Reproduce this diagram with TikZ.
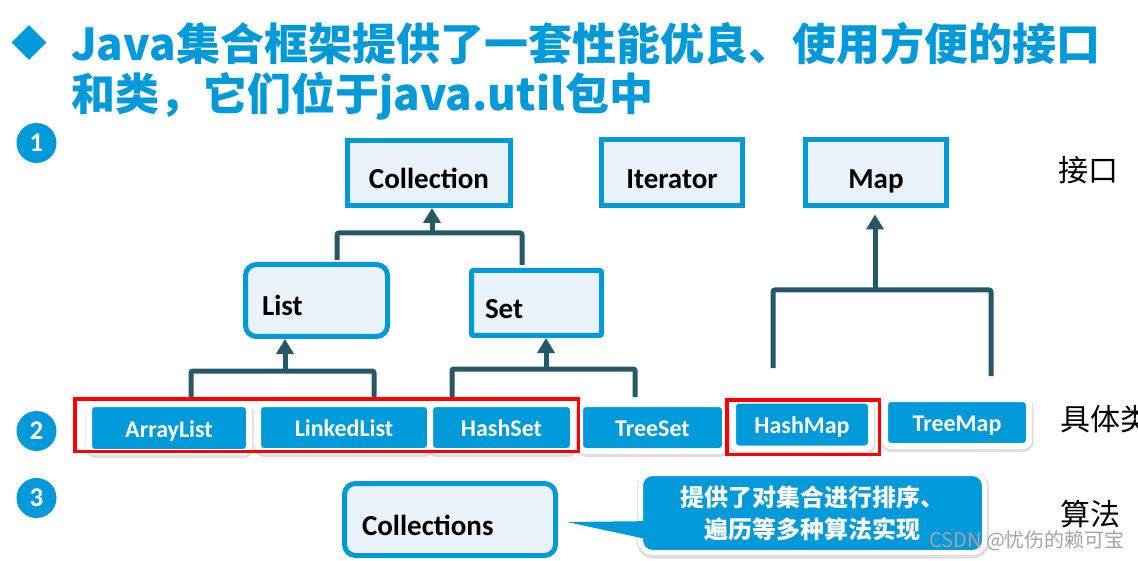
\documentclass[tikz,border=0pt]{standalone}
\usepackage{fontspec}
\setmainfont{Carlito}
\newfontfamily\cjk{Noto Sans CJK SC}
\usepackage{tikz}
\usetikzlibrary{arrows.meta,positioning,shapes.geometric,shadows}
\definecolor{jblue}{RGB}{0,153,218}
\definecolor{jpale}{RGB}{234,243,251}
\definecolor{jdark}{RGB}{37,89,105}
\definecolor{wmgray}{RGB}{165,165,165}

\begin{document}
\begin{tikzpicture}[x=1pt,y=-1pt,
  ifbox/.style={draw=jblue, line width=5pt, fill=jpale, inner sep=0pt,
    font=\bfseries\fontsize{29}{29}\selectfont, text height=31pt, text depth=0pt},
  clsbox/.style={fill=jblue, draw=white, line width=6pt, rounded corners=6pt,
    text=white, inner sep=0pt, font=\bfseries\fontsize{24}{24}\selectfont,
    text height=18pt, text depth=0pt,
    drop shadow={shadow xshift=0.5pt, shadow yshift=-2pt, opacity=.13, fill=black,
      draw=black, line width=8pt}},
  conn/.style={draw=jdark, line width=5pt, rounded corners=2pt},
  inh/.style={conn, -{Triangle[width=17pt,length=15pt]}},
  numdot/.style={circle, fill=jblue, minimum size=40pt, inner sep=0pt, text=white,
    font=\bfseries\fontsize{27}{27}\selectfont},
  selbox/.style={draw=red, line width=3.5pt},
  rlab/.style={anchor=west, inner sep=0pt, font=\cjk\fontsize{30}{30}\selectfont}]
  \fill[white] (0,0) rectangle (1138,561);
  \useasboundingbox (0,0) rectangle (1138,561);

  % title
  \node[diamond, aspect=1, minimum size=35pt, inner sep=0pt, fill=jblue] (dia) at (29,42.5) {};
  \node[anchor=base west, inner sep=0pt, text=jblue, font=\cjk\bfseries\fontsize{44}{44}\selectfont]
    (title1) at (71,61) {Java集合框架提供了一套性能优良、使用方便的接口};
  \node[anchor=base west, inner sep=0pt, text=jblue, font=\cjk\bfseries\fontsize{44}{44}\selectfont]
    (title2) at (71,111) {和类，它们位于java.util包中};

  % row numbers
  \node[numdot] (n1) at (36.5,143) {1};
  \node[numdot] (n2) at (36.5,431) {2};
  \node[numdot] (n3) at (36.5,498) {3};

  % interfaces
  \node[ifbox, minimum width=163pt, minimum height=65pt] (coll) at (429,173) {Collection};
  \node[ifbox, minimum width=141pt, minimum height=66pt] (iter) at (672,173) {Iterator};
  \node[ifbox, minimum width=141pt, minimum height=66pt] (map) at (876,173) {Map};
  \node[ifbox, rounded corners=11pt, minimum width=142pt, minimum height=72pt,
    text width=109pt, align=left, inner xsep=16.5pt] (list) at (316.5,300.5) {List};
  \node[ifbox, rounded corners=2pt, minimum width=130pt, minimum height=65pt,
    text width=103pt, align=left, inner xsep=13.5pt] (set) at (536.5,303) {Set};

  % classes
  \node[clsbox, minimum width=160pt, minimum height=48pt] (arraylist) at (169,428) {ArrayList};
  \node[clsbox, minimum width=172pt, minimum height=47pt] (linkedlist) at (344,427.5) {LinkedList};
  \node[clsbox, minimum width=143pt, minimum height=47pt] (hashset) at (501.5,427.5) {HashSet};
  \node[clsbox, minimum width=145pt, minimum height=47pt] (treeset) at (652.5,427.5) {TreeSet};
  \node[clsbox, minimum width=138pt, minimum height=48pt] (hashmap) at (802,424.5) {HashMap};
  \node[clsbox, minimum width=144pt, minimum height=47pt] (treemap) at (957,422.5) {TreeMap};

  % Collection tree
  \coordinate (cl) at (337,233);
  \coordinate (cj) at (432,233);
  \coordinate (cr) at (522,233);
  \draw[conn, shorten <=2pt, shorten >=3pt] (cl |- list.north) -- (cl) -- (cr) -- (cr |- set.north);
  \draw[inh] (cj) -- (cj |- coll.south);
  % List tree
  \coordinate (ll) at (191,371);
  \coordinate (lj) at (285,371);
  \coordinate (lr) at (374,371);
  \draw[conn, shorten <=4pt, shorten >=4pt] (ll |- arraylist.north) -- (ll) -- (lr) -- (lr |- linkedlist.north);
  \draw[inh] (lj) -- (lj |- list.south);
  % Set tree
  \coordinate (sl) at (452,369);
  \coordinate (sj) at (546,369);
  \coordinate (sr) at (635,369);
  \draw[conn, shorten <=4pt, shorten >=4pt] (sl |- hashset.north) -- (sl) -- (sr) -- (sr |- treeset.north);
  \draw[inh] (sj) -- (sj |- set.south);
  % Map tree
  \coordinate (mlend) at (773,368);
  \coordinate (mj) at (875,290);
  \coordinate (mrend) at (991,376);
  \draw[conn] (mlend) |- (mj) -| (mrend);
  \draw[inh, shorten >=6pt] (mj) -- (mj |- map.south);

  % selections
  \draw[selbox] (74.75,398.75) rectangle (578.25,451.25);
  \draw[selbox] (726.75,399.75) rectangle (879.25,454.25);

  % algorithms
  \node[ifbox, rounded corners=11pt, minimum width=211pt, minimum height=72pt,
    text width=176pt, align=left, inner xsep=17.5pt] (colls) at (450,519.5) {Collections};
  \coordinate (tip) at (567,522);
  \coordinate (wa) at (660,521);
  \coordinate (wb) at (660,542);
  \filldraw[fill=jblue, draw=white, line width=6pt, line join=round,
    drop shadow={shadow xshift=0.5pt, shadow yshift=-3pt, opacity=.2, fill=black}] (tip) -- (wa) -- (wb) -- cycle;
  \node[fill=jblue, draw=white, line width=5pt, rounded corners=12pt, minimum width=344pt,
    minimum height=79pt, inner sep=0pt, text=white, align=center,
    font=\cjk\bfseries\fontsize{24}{32}\selectfont,
    drop shadow={shadow xshift=0.5pt, shadow yshift=-2pt, opacity=.13, fill=black,
      draw=black, line width=8pt}]
    (note) at (812.5,513) {提供了对集合进行排序、\\遍历等多种算法实现};
  \fill[jblue] (tip) -- (wa) -- (wb) -- cycle;

  % right labels
  \node[rlab] (lbif) at (1058,170) {接口};
  \node[rlab] (lbcls) at (1060,419) {具体类};
  \node[rlab] (lbalg) at (1060,514) {算法};

  % watermark
  \node[anchor=west, inner sep=0pt, text=wmgray, font=\cjk\fontsize{20}{20}\selectfont]
    (wm) at (929,541) {CSDN @忧伤的赖可宝};
\end{tikzpicture}
\end{document}
